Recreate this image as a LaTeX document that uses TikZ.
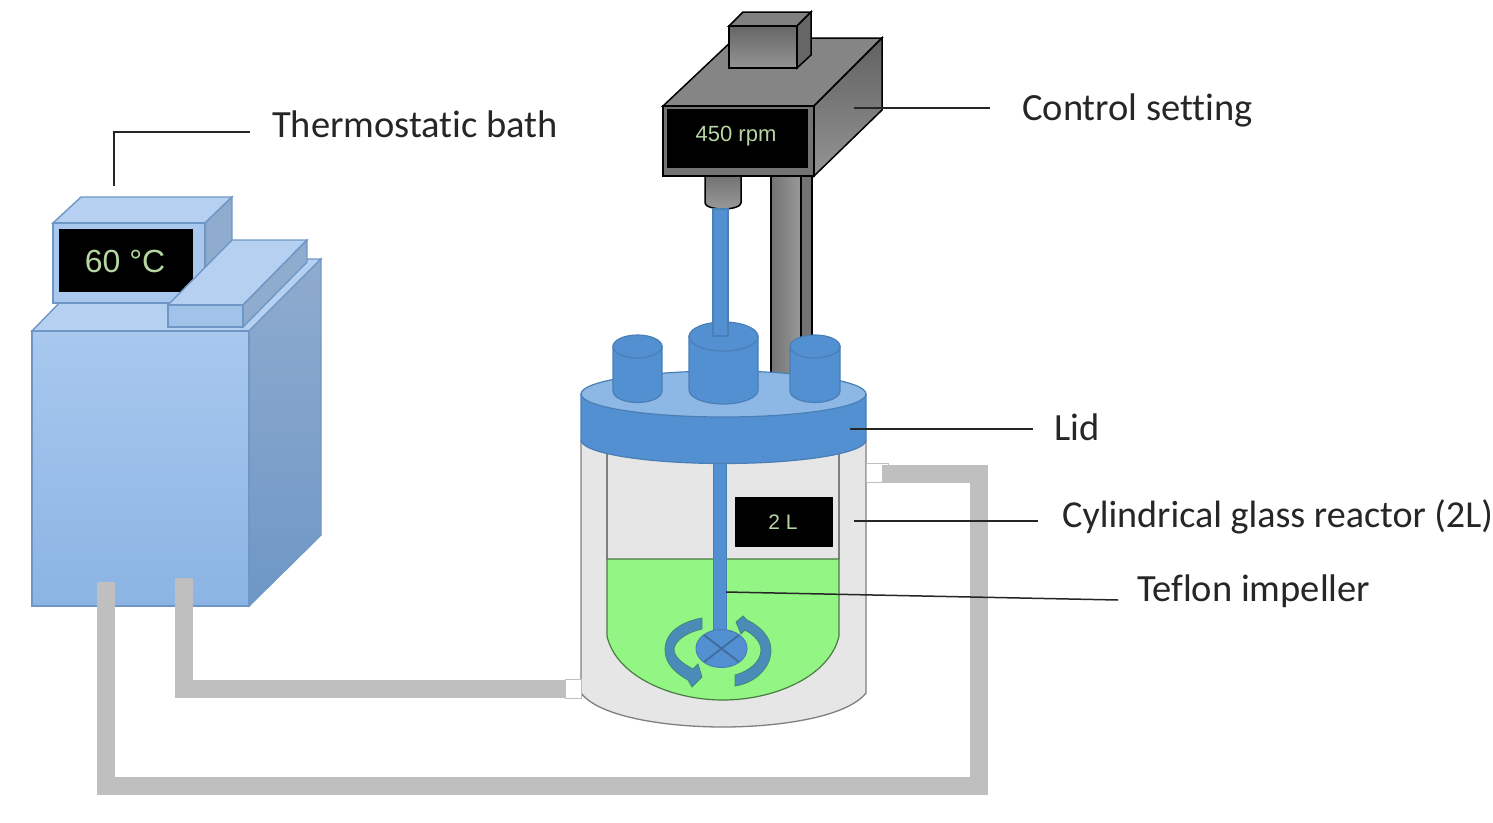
\documentclass[tikz,border=0pt]{standalone}
\usepackage{fontspec}
\setmainfont[Ligatures=NoCommon]{Carlito}
\newfontfamily\dispfont{Liberation Sans}
\definecolor{bathE}{HTML}{6F97C6}
\definecolor{cylE}{HTML}{4A7FB5}
\definecolor{cylB}{HTML}{5390D2}
\definecolor{lidT}{HTML}{8DB8E6}
\definecolor{dispG}{HTML}{B5D6A0}
\definecolor{tubeG}{HTML}{BFBFBF}
\definecolor{glass}{HTML}{E6E6E6}
\definecolor{liq}{HTML}{92F584}
\definecolor{glassE}{HTML}{7F7F7F}
\definecolor{bathS1}{HTML}{8FABCE}
\definecolor{bathS2}{HTML}{6E97C6}
\definecolor{bathF1}{HTML}{A8C8EE}
\definecolor{bathF2}{HTML}{8BB4E4}
\definecolor{bathT}{HTML}{B5D0F0}
\definecolor{arrowB}{HTML}{4A8BB8}
\definecolor{arrowE}{HTML}{3F8A78}
\begin{document}
\begin{tikzpicture}[x=1pt,y=-1pt,line join=miter,
  bathedge/.style={draw=bathE,line width=1.4pt},
  gedge/.style={draw=black,line width=1.5pt},
  cyl/.style={draw=cylE,line width=1.2pt,fill=cylB},
  screen/.style={fill=black,draw=none,inner sep=0pt,anchor=north west},
  disp/.style={text=dispG,font=\dispfont},
  lbl/.style={font=\fontsize{38.5}{42}\selectfont,text=black!85,anchor=base west,inner sep=0pt},
  lead/.style={draw=black!85,line width=1.5pt},
  tube/.style={draw=tubeG,line width=18pt,line join=miter},
  port/.style={fill=white,draw=tubeG,line width=1pt,inner sep=0pt,anchor=north west},
  anchorpt/.style={inner sep=0pt,minimum size=0pt},
  swirl/.style={draw=arrowE,fill=arrowB,line width=.8pt}]
\useasboundingbox (0,0) rectangle (1493,822);
\fill[white] (0,0) rectangle (1493,822);
% thermostatic bath
\path[bathedge,fill=bathT] (32,331) -- (102,259) -- (321,259) -- (249,331) -- cycle;
\path[bathedge,top color=bathS1,bottom color=bathS2] (249,331) -- (321,259) -- (321,535) -- (249,606) -- cycle;
\path[bathedge,top color=bathF1,bottom color=bathF2] (32,331) rectangle (249,606);
% display box
\path[bathedge,fill=bathT] (53,223) -- (81,197) -- (232,197) -- (205,223) -- cycle;
\path[bathedge,fill=bathS1] (205,223) -- (232,197) -- (232,270) -- (205,303) -- cycle;
\path[bathedge,fill=bathF1] (53,223) rectangle (205,303);
\node[screen,minimum width=134pt,minimum height=63pt] (bathscreen) at (59,229) {};
\node[disp,font=\dispfont\fontsize{32}{34}\selectfont] (temp) at (125,261) {60 °C};
% bath lid
\path[bathedge,fill=bathT] (168,305) -- (232,240) -- (307,240) -- (243,305) -- cycle;
\path[bathedge,fill=bathS1] (243,305) -- (307,240) -- (307,262) -- (243,327) -- cycle;
\path[bathedge,fill=bathF2!80!white] (168,305) rectangle (243,327);
% stand
\path[gedge,left color=black!55,right color=black!40] (771,176) rectangle (801,375);
\path[gedge,fill=black!55] (801,176) rectangle (812,375);
% chuck
\draw[gedge,top color=black!55,bottom color=black!40] (705,176) -- (705,203) arc[start angle=180,end angle=0,x radius=18,y radius=6] -- (741,176) -- cycle;
% control box
\path[gedge,fill=black!48] (663,106) -- (735,38) -- (882,38) -- (814,106) -- cycle;
\path[gedge,top color=black!62,bottom color=black!42] (814,106) -- (882,38) -- (882,110) -- (814,176) -- cycle;
\path[gedge,fill=black!55] (663,106) rectangle (814,176);
\node[screen,minimum width=141pt,minimum height=59pt] (ctrlscreen) at (667,109) {};
\node[disp,font=\dispfont\fontsize{22}{24}\selectfont] (rpm) at (736,136) {450 rpm};
\path[gedge,fill=black!50] (729,26) -- (743,12) -- (811,12) -- (797,26) -- cycle;
\path[gedge,fill=black!60] (797,26) -- (811,12) -- (811,55) -- (797,68) -- cycle;
\path[gedge,top color=black!60,bottom color=black!42] (729,26) rectangle (797,68);
% reactor body
\path[draw=glassE,line width=1.3pt,fill=glass] (581,440) -- (581,693) .. controls (600,718) and (670,727) .. (723,727) .. controls (776,727) and (846,718) .. (866,693) -- (866,440) -- cycle;
\path[draw=glassE,line width=1.3pt] (607,440) -- (607,559) (839,440) -- (839,559);
\path[draw=black!50!liq,line width=1.2pt,fill=liq] (607,559) -- (839,559) -- (839,636) .. controls (830,676) and (775,700) .. (723,700) .. controls (671,700) and (616,676) .. (607,636) -- cycle;
% lid
\path[cyl] (581,394) -- (581,440) arc[start angle=180,end angle=0,x radius=142.5,y radius=23.5] -- (866,394) -- cycle;
\path[cyl,fill=lidT] (723.5,394) ellipse[x radius=142.5,y radius=23];
% lid cylinders
\path[cyl] (613,346) -- (613,391) arc[start angle=180,end angle=0,x radius=24.5,y radius=11.5] -- (662,346) -- cycle;
\path[cyl] (637.5,346.5) ellipse[x radius=24.5,y radius=11.5];
\path[cyl] (790,346) -- (790,391) arc[start angle=180,end angle=0,x radius=25,y radius=11.5] -- (840,346) -- cycle;
\path[cyl] (815,346.5) ellipse[x radius=25,y radius=11.5];
\path[cyl] (689,336) -- (689,390) arc[start angle=180,end angle=0,x radius=34.5,y radius=14] -- (758,336) -- cycle;
\path[cyl] (723.5,336.5) ellipse[x radius=34.5,y radius=14.5];
% shaft upper
\path[cyl] (713,209) -- (713,336) -- (728,336) -- (728,209) -- cycle;
% shaft lower
\path[draw=cylE,fill=cylB,line width=1pt] (713,463) rectangle (726,632);
% 2 L label
\node[screen,minimum width=98pt,minimum height=50pt] (volbox) at (735,497) {};
\node[disp,font=\dispfont\fontsize{21}{24}\selectfont] (vol) at (783,522) {2 L};
% impeller
\path[draw=cylE,fill=cylB,line width=1pt] (721.5,648.5) ellipse[x radius=25.5,y radius=19];
\draw[cylE!85!black,line width=1.8pt] (704,635) -- (739,662) (704,662) -- (739,635);
\path[swirl] (702,618) .. controls (680,622) and (665,633) .. (665,650) .. controls (665,663) and (675,673) .. (688,680) -- (692,687) -- (702,677) -- (698,664) -- (693,669) .. controls (682,663) and (674,657) .. (674,649) .. controls (675,640) and (688,632) .. (702,629) -- cycle;
\path[swirl] (735,686) .. controls (755,683) and (771,668) .. (771,650) .. controls (771,637) and (760,626) .. (747,620) -- (743,616) -- (736,622) -- (741,634) -- (745,630) .. controls (754,635) and (761,642) .. (761,650) .. controls (761,661) and (750,671) .. (735,675) -- cycle;
% tubes
\node[anchorpt] (bathA) at (106,582) {};
\node[anchorpt] (bathB) at (184,578) {};
\node[port,minimum width=16pt,minimum height=19pt] (portL) at (565,679) {};
\node[port,minimum width=22pt,minimum height=19pt] (portR) at (866,463) {};
\draw[tube] (bathB.center) |- (portL.west);
\draw[tube] (bathA.center) -- (106,786) -- (979,786) -- (979,473.5) -- (882,473.5);
% labels and leaders
\node[lbl] (lblBath) at (272,137) {Thermostatic bath};
\node[lbl] (lblCtrl) at (1022,120) {Control setting};
\node[lbl] (lblLid) at (1054,440) {Lid};
\node[lbl,font=\fontsize{38.1}{42}\selectfont] (lblGlass) at (1062,527) {Cylindrical glass reactor (2L)};
\node[lbl] (lblTeflon) at (1137,601) {Teflon impeller};
\coordinate (ldBathA) at (114,186);
\coordinate (ldBathB) at (250,132);
\coordinate (ldCtrlA) at (854,108);
\coordinate (ldCtrlB) at (990,108);
\coordinate (ldLidA) at (850,429);
\coordinate (ldLidB) at (1033,429);
\coordinate (ldGlassA) at (854,521);
\coordinate (ldGlassB) at (1038,521);
\coordinate (ldTefA) at (726,592);
\coordinate (ldTefB) at (1118,600);
\draw[lead] (ldBathA) |- (ldBathB);
\draw[lead] (ldCtrlA) -- (ldCtrlB);
\draw[lead] (ldLidA) -- (ldLidB);
\draw[lead] (ldGlassA) -- (ldGlassB);
\draw[lead] (ldTefA) -- (ldTefB);
\end{tikzpicture}
\end{document}
